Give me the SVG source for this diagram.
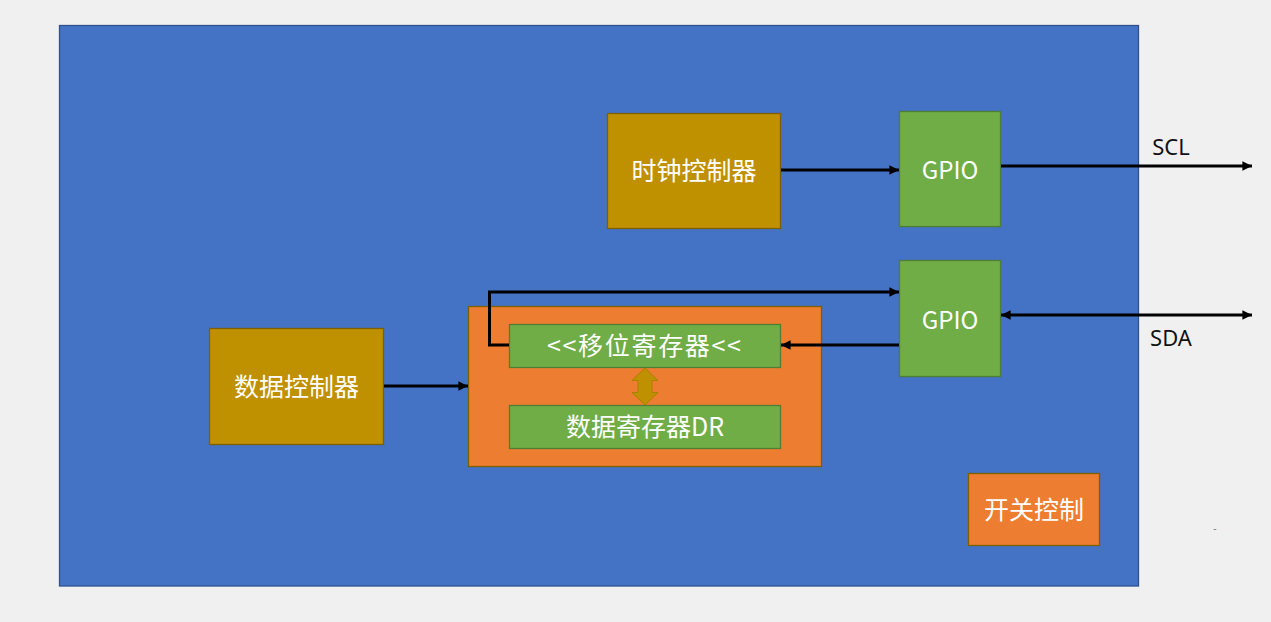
<svg xmlns="http://www.w3.org/2000/svg" width="1271" height="622" viewBox="0 0 1271 622">
<defs>
<style>
.t{font-family:"Noto Sans CJK SC","Noto Sans",sans-serif;font-size:25px;fill:#fff;text-anchor:middle;dominant-baseline:central}
.g{font-size:24px}
.lbl{font-family:"Noto Sans","Noto Sans CJK SC",sans-serif;font-size:22px;fill:#111;text-anchor:middle;dominant-baseline:central}
.gold{fill:#bf9000;stroke:#7f6000;stroke-width:1.3}
.green{fill:#70ad47;stroke:#507e32;stroke-width:1.3}
.orange{fill:#ed7d31;stroke:#7f6000;stroke-width:1.3}
.ln{fill:none;stroke:#000;stroke-width:3}
</style>
<marker id="ah" viewBox="0 0 10 10" refX="10" refY="5" markerWidth="3.6" markerHeight="3.2" orient="auto-start-reverse" markerUnits="strokeWidth">
<path d="M0,0L10,5L0,10z" fill="#000"/>
</marker>
</defs>
<rect x="0" y="0" width="1271" height="622" fill="#f0f0f0"/>
<g id="chip"><rect x="59.5" y="25.5" width="1079" height="560.5" fill="#4472c4" stroke="#2f528f" stroke-width="1.3"/></g>
<g id="clock"><rect class="gold" x="607.5" y="113.5" width="173" height="115"/><text class="t" x="694" y="169">时钟控制器</text></g>
<g id="gpio1"><rect class="green" x="899.5" y="111.5" width="101" height="115"/><text class="t g" x="950" y="168">GPIO</text></g>
<g id="gpio2"><rect class="green" x="899.5" y="260.5" width="101" height="116"/><text class="t g" x="950" y="318">GPIO</text></g>
<g id="datactrl"><rect class="gold" x="209.5" y="328.5" width="174" height="116"/><text class="t" x="296.5" y="385">数据控制器</text></g>
<g id="regblock"><rect class="orange" x="468.5" y="306.5" width="353" height="160"/></g>
<g id="shiftreg"><rect class="green" x="509.5" y="324.5" width="271" height="43"/><text class="t" x="644" y="344" textLength="194" lengthAdjust="spacing">&lt;&lt;移位寄存器&lt;&lt;</text></g>
<g id="dr"><rect class="green" x="509.5" y="405.5" width="271" height="43"/><text class="t" x="645" y="425">数据寄存器DR</text></g>
<g id="dblarrow"><path d="M645,368L658,380.5L652,380.5L652,392.5L658,392.5L645,405L632,392.5L638,392.5L638,380.5L632,380.5Z" fill="#bf9000" stroke="#a98000" stroke-width="1"/></g>
<g id="switch"><rect class="orange" x="968.5" y="473.5" width="131" height="72"/><text class="t" x="1034" y="508">开关控制</text></g>
<g id="connectors">
<line class="ln" x1="781" y1="170" x2="899" y2="170" marker-end="url(#ah)"/>
<line class="ln" x1="1001" y1="166" x2="1252" y2="166" marker-end="url(#ah)"/>
<line class="ln" x1="1001" y1="315" x2="1252" y2="315" marker-start="url(#ah)" marker-end="url(#ah)"/>
<line class="ln" x1="899" y1="345" x2="781" y2="345" marker-end="url(#ah)"/>
<polyline class="ln" points="509,345 489.5,345 489.5,292 899,292" marker-end="url(#ah)"/>
<line class="ln" x1="384" y1="386" x2="468" y2="386" marker-end="url(#ah)"/>
</g>
<text class="lbl" x="1171" y="146">SCL</text>
<text class="lbl" x="1171" y="337">SDA</text>
<text x="1215" y="532" font-family="Liberation Sans,sans-serif" font-size="10" fill="#777" text-anchor="middle">-</text>
</svg>
